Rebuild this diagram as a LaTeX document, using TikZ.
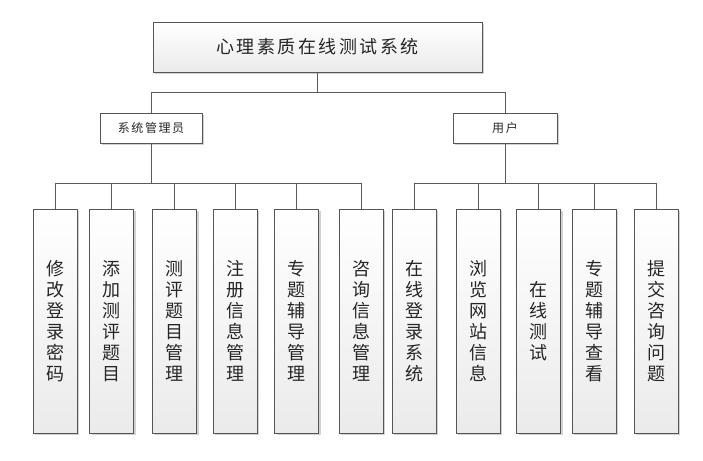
\documentclass[tikz,border=0pt]{standalone}
\usepackage{fontspec}
\newfontfamily\cjk{Noto Sans CJK SC}
\usetikzlibrary{shadows}
\definecolor{edgegray}{HTML}{555555}
\definecolor{linegray}{HTML}{5A5A5A}
\tikzset{
  boxbase/.style={draw=edgegray, line width=0.9pt, top color=white, bottom color=black!8,
    drop shadow={shadow xshift=2.2pt, shadow yshift=-2.2pt, fill=black!22, opacity=0.8},
    inner sep=0pt, text=black!85},
  topbox/.style={boxbase, minimum width=329pt, minimum height=50pt,
    font=\cjk\fontsize{18}{20}\selectfont\addfontfeature{LetterSpace=14}},
  midbox/.style={boxbase, top color=white, bottom color=white, drop shadow={opacity=0},
    minimum height=30pt, font=\cjk\fontsize{12}{14}\selectfont\addfontfeature{LetterSpace=13}},
  leafbox/.style={boxbase, minimum width=44pt, minimum height=224pt, text width=20pt, align=center,
    font=\cjk\fontsize{18}{21}\selectfont},
  conn/.style={draw=linegray, line width=0.9pt}
}
\begin{document}
\begin{tikzpicture}[x=1pt, y=-1pt]
\useasboundingbox (0,0) rectangle (703,460);
\node[topbox] (top) at (317.5,47) {心理素质在线测试系统};
\node[midbox, minimum width=102pt] (admin) at (151,128) {系统管理员};
\node[midbox, minimum width=104pt] (user) at (505,128) {用户};

\node[leafbox] (a1) at (55,321) {修\\改\\登\\录\\密\\码};
\node[leafbox] (a2) at (111.5,321) {添\\加\\测\\评\\题\\目};
\node[leafbox] (a3) at (174.5,321) {测\\评\\题\\目\\管\\理};
\node[leafbox] (a4) at (235,321) {注\\册\\信\\息\\管\\理};
\node[leafbox] (a5) at (296.5,321) {专\\题\\辅\\导\\管\\理};
\node[leafbox] (a6) at (361,321) {咨\\询\\信\\息\\管\\理};
\node[leafbox] (u1) at (414,321) {在\\线\\登\\录\\系\\统};
\node[leafbox] (u2) at (478,321) {浏\\览\\网\\站\\信\\息};
\node[leafbox] (u3) at (538.5,321) {在\\线\\测\\试};
\node[leafbox] (u4) at (594,321) {专\\题\\辅\\导\\查\\看};
\node[leafbox] (u5) at (656,321) {提\\交\\咨\\询\\问\\题};

\draw[conn] (top.south) -- ++(0,21);
\draw[conn] (admin.north) -- ++(0,-20) -| (user.north);
\draw[conn] (admin.south) -- ++(0,41);
\draw[conn] (user.south) -- ++(0,41);
\draw[conn] (a1.north) -- ++(0,-25) -| (a6.north);
\foreach \n in {a2,a3,a4,a5} \draw[conn] (\n.north) -- ++(0,-25);
\draw[conn] (u1.north) -- ++(0,-25) -| (u5.north);
\foreach \n in {u2,u3,u4} \draw[conn] (\n.north) -- ++(0,-25);
\end{tikzpicture}
\end{document}
